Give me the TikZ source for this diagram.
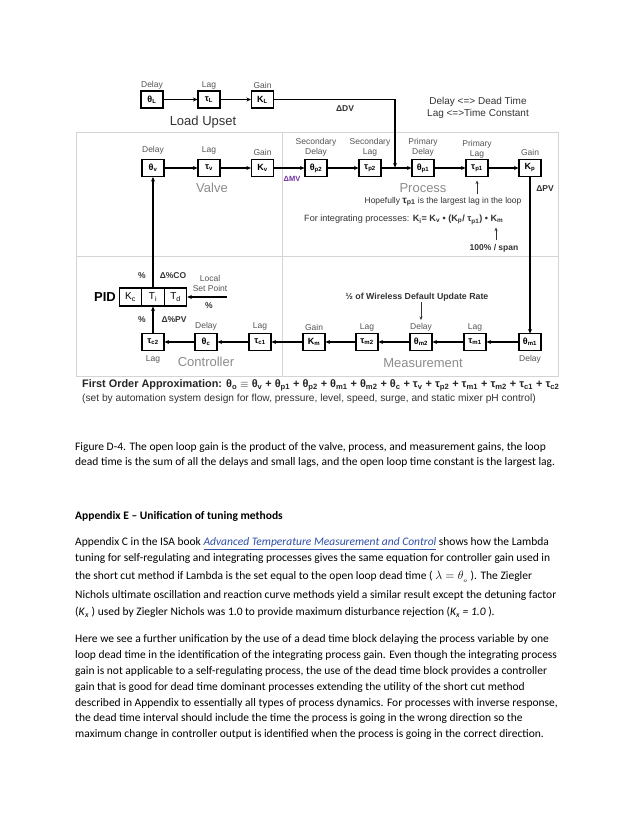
\documentclass[tikz,border=0pt]{standalone}
\usepackage{fontspec}
\setmainfont{Carlito}
\newfontfamily\arial{Liberation Sans}
\usetikzlibrary{arrows.meta}
\definecolor{lblgray}{HTML}{555555}
\definecolor{biggray}{HTML}{8C8C8C}
\definecolor{framegray}{HTML}{D4D4D4}
\definecolor{mvpurple}{HTML}{7030A0}
\definecolor{linkblue}{HTML}{2F4FA8}
\definecolor{darktxt}{HTML}{333333}
\begin{document}
\begin{tikzpicture}[x=1pt,y=-1pt,
 blk/.style={draw,line width=1.1pt,fill=white,minimum width=22pt,minimum height=17pt,inner sep=0pt,font=\arial\bfseries\fontsize{9}{10}\selectfont},
 pidbox/.style={draw,line width=1.1pt,fill=white,minimum width=22.5pt,minimum height=18pt,inner sep=0pt,font=\arial\fontsize{10}{11}\selectfont},
 lbl/.style={font=\arial\fontsize{8.5}{10}\selectfont,text=lblgray,inner sep=0pt,align=center},
 big/.style={font=\arial\fontsize{13}{14}\selectfont,text=biggray,inner sep=0pt},
 note/.style={font=\arial\fontsize{8.5}{10}\selectfont,text=darktxt,inner sep=0pt},
 bnote/.style={font=\arial\bfseries\fontsize{8.5}{10}\selectfont,text=darktxt,inner sep=0pt},
 arr/.style={-{Stealth[length=4.5pt,width=4pt]},line width=1.3pt},
 thinarr/.style={-{Stealth[length=3.5pt,width=3pt]},line width=0.6pt,draw=darktxt},
 body/.style={font=\fontsize{11.5}{14}\selectfont,anchor=base west,inner sep=0pt},
]
\fill[white] (0,0) rectangle (638,826);
\useasboundingbox (0,0) rectangle (638,826);

% frame
\draw[framegray,line width=0.8pt] (76,132) rectangle (558,376);
\draw[framegray,line width=0.8pt] (76,256) -- (558,256);
\draw[framegray,line width=0.8pt] (282,132) -- (282,376);

% load upset row
\node[blk] (thL) at (152,99.5) {θ\textsubscript{L}};
\node[blk] (tauL) at (209,99.5) {τ\textsubscript{L}};
\node[blk] (KL) at (262.5,99.5) {K\textsubscript{L}};
\node[lbl] (l1) at (152,85) {Delay};
\node[lbl] (l2) at (209,85) {Lag};
\node[lbl] (l3) at (262.5,85) {Gain};
\node[font=\arial\fontsize{13}{14}\selectfont,text=darktxt,inner sep=0pt] (lu) at (203,122) {Load Upset};
\node[bnote] (dv) at (345,109) {ΔDV};
\node[font=\arial\fontsize{10}{12}\selectfont,text=darktxt,inner sep=0pt] (eq1) at (478,102) {Delay <=> Dead Time};
\node[font=\arial\fontsize{10}{12}\selectfont,text=darktxt,inner sep=0pt] (eq2) at (478,114) {Lag <=>Time Constant};
\coordinate (dvc) at (395,99.5);
\coordinate (dvj) at (395,167.5);
\draw[arr] (thL) -- (tauL);
\draw[arr] (tauL) -- (KL);
\draw[arr] (KL.east) -- (dvc) -- (dvj);

% forward path
\node[blk] (thv) at (153,168) {θ\textsubscript{v}};
\node[blk] (tauv) at (209,168) {τ\textsubscript{v}};
\node[blk] (Kv) at (262.5,168) {K\textsubscript{v}};
\node[blk] (thp2) at (316,168) {θ\textsubscript{p2}};
\node[blk] (taup2) at (370,168) {τ\textsubscript{p2}};
\node[blk] (thp1) at (423,168) {θ\textsubscript{p1}};
\node[blk] (taup1) at (477,168) {τ\textsubscript{p1}};
\node[blk] (Kp) at (530,168) {K\textsubscript{p}};
\node[lbl] (l4) at (153,150.5) {Delay};
\node[lbl] (l5) at (209,150.5) {Lag};
\node[lbl] (l6) at (262.5,152.5) {Gain};
\node[lbl] (l7) at (316,147) {Secondary\\Delay};
\node[lbl] (l8) at (370,147) {Secondary\\Lag};
\node[lbl] (l9) at (423,147) {Primary\\Delay};
\node[lbl] (l10) at (477,149.5) {Primary\\Lag};
\node[lbl] (l11) at (530,152.5) {Gain};
\draw[arr] (thv) -- (tauv);
\draw[arr] (tauv) -- (Kv);
\draw[arr] (Kv) -- (thp2);
\draw[arr] (thp2) -- (taup2);
\draw[arr] (taup2) -- (thp1);
\draw[arr] (thp1) -- (taup1);
\draw[arr] (taup1) -- (Kp);
\node[font=\arial\bfseries\fontsize{7.5}{9}\selectfont,text=mvpurple,inner sep=0pt] (mv) at (292,179) {ΔMV};
\node[big] (valve) at (212,188) {Valve};
\node[big] (process) at (423,188) {Process};
\node[bnote] (pv) at (545,189) {ΔPV};
\node[note] (hope) at (443,201.5) {Hopefully {\bfseries\fontsize{10}{10}\selectfont τ\textsubscript{p1}} is the largest lag in the loop};
\coordinate (hopeA) at (477,194);
\coordinate (hopeB) at (477,180.5);
\draw[thinarr] (hopeA) -- (hopeB);
\node[note,anchor=west,font=\arial\fontsize{9.1}{10}\selectfont] (integ) at (304,220) {For integrating processes: {\bfseries K\textsubscript{i}= K\textsubscript{v} • (K\textsubscript{p}/ τ\textsubscript{p1}) • K\textsubscript{m}}};
\coordinate (spA) at (496,240);
\coordinate (spB) at (496,227.5);
\draw[thinarr] (spA) -- (spB);
\node[bnote] (span) at (494,248) {100\% / span};

% Kp down to measurement
\draw[arr,line width=1.5pt] (Kp.south) -- (Kp.south |- 0,333.5);

% measurement / controller row
\node[blk] (thm1) at (530,342) {θ\textsubscript{m1}};
\node[blk] (taum1) at (475,342) {τ\textsubscript{m1}};
\node[blk] (thm2) at (421,342) {θ\textsubscript{m2}};
\node[blk] (taum2) at (367,342) {τ\textsubscript{m2}};
\node[blk] (Km) at (314,342) {K\textsubscript{m}};
\node[blk] (tauc1) at (260,342) {τ\textsubscript{c1}};
\node[blk] (thc) at (206,342) {θ\textsubscript{c}};
\node[blk] (tauc2) at (153,342) {τ\textsubscript{c2}};
\node[lbl] (l12) at (314,327) {Gain};
\node[lbl] (l13) at (367,327) {Lag};
\node[lbl] (l14) at (421,327) {Delay};
\node[lbl] (l15) at (475,327) {Lag};
\node[lbl] (l16) at (530,359) {Delay};
\node[lbl] (l17) at (206,326) {Delay};
\node[lbl] (l18) at (260,326) {Lag};
\node[lbl] (l19) at (153,359) {Lag};
\draw[arr] (thm1) -- (taum1);
\draw[arr] (taum1) -- (thm2);
\draw[arr] (thm2) -- (taum2);
\draw[arr] (taum2) -- (Km);
\draw[arr] (Km) -- (tauc1);
\draw[arr] (tauc1) -- (thc);
\draw[arr] (thc) -- (tauc2);
\node[big] (ctrl) at (206,362) {Controller};
\node[big] (meas) at (423,363) {Measurement};
\node[bnote,font=\arial\bfseries\fontsize{8.8}{10}\selectfont] (wl) at (417,297) {½ of Wireless Default Update Rate};
\coordinate (wlA) at (421,302);
\coordinate (wlB) at (421,320);
\draw[thinarr] (wlA) -- (wlB);

% PID
\node[font=\arial\bfseries\fontsize{13}{14}\selectfont,text=black,inner sep=0pt] (pid) at (105,297.5) {PID};
\node[pidbox] (Kc) at (130.5,297) {K\textsubscript{c}};
\node[pidbox] (Ti) at (153,297) {T\textsubscript{i}};
\node[pidbox] (Td) at (175.5,297) {T\textsubscript{d}};
\draw[arr] (tauc2.north) -- (Ti.south);
\draw[arr,line width=1.5pt] (Ti.north) -- (thv.south);
\coordinate (lsp) at (227,297);
\draw[arr] (lsp) -- (Td.east);
\node[bnote] (pc1) at (142,276) {\%};
\node[bnote] (co) at (173,276) {Δ\%CO};
\node[lbl] (loc) at (210,283) {Local\\Set Point};
\node[bnote] (pc2) at (209,305.5) {\%};
\node[bnote] (pc3) at (142,320) {\%};
\node[bnote] (pvl) at (174,320) {Δ\%PV};

% approximation
\node[font=\arial\bfseries\fontsize{10.9}{13}\selectfont,anchor=base west,inner sep=0pt,text=black!85] (fo) at (82,387.5) {First Order Approximation: θ\textsubscript{o} $\equiv$ θ\textsubscript{v} + θ\textsubscript{p1} + θ\textsubscript{p2} + θ\textsubscript{m1} + θ\textsubscript{m2} + θ\textsubscript{c} + τ\textsubscript{v} + τ\textsubscript{p2} + τ\textsubscript{m1} + τ\textsubscript{m2} + τ\textsubscript{c1} + τ\textsubscript{c2}};
\node[font=\arial\fontsize{10.2}{12}\selectfont,anchor=base west,inner sep=0pt,text=darktxt] (setby) at (82,401) {(set by automation system design for flow, pressure, level, speed, surge, and static mixer pH control)};

% body text
\node[body] (t1) at (75,450.5) {Figure D-4. The open loop gain is the product of the valve, process, and measurement gains, the loop};
\node[body] (t2) at (75,465.5) {dead time is the sum of all the delays and small lags, and the open loop time constant is the largest lag.};
\node[body,font=\bfseries\fontsize{11.5}{14}\selectfont] (t3) at (75,519.5) {Appendix E – Unification of tuning methods};
\node[body] (t4) at (75,545.5) {Appendix C in the ISA book {\color{linkblue}\textit{\underline{Advanced Temperature Measurement and Control}}} shows how the Lambda};
\node[body] (t5) at (75,561.5) {tuning for self-regulating and integrating processes gives the same equation for controller gain used in};
\node[body] (t6) at (75,579.5) {the short cut method if Lambda is the set equal to the open loop dead time ( $\lambda = \theta_{_o}$ ). The Ziegler};
\node[body] (t7) at (75,598.5) {Nichols ultimate oscillation and reaction curve methods yield a similar result except the detuning factor};
\node[body] (t8) at (75,615.5) {(\textit{K}\textsubscript{\textit{x}} ) used by Ziegler Nichols was 1.0 to provide maximum disturbance rejection (\textit{K\textsubscript{x} = 1.0} ).};
\node[body] (t9) at (75,642) {Here we see a further unification by the use of a dead time block delaying the process variable by one};
\node[body] (t10) at (75,658) {loop dead time in the identification of the integrating process gain. Even though the integrating process};
\node[body] (t11) at (75,674) {gain is not applicable to a self-regulating process, the use of the dead time block provides a controller};
\node[body] (t12) at (75,690) {gain that is good for dead time dominant processes extending the utility of the short cut method};
\node[body] (t13) at (75,706) {described in Appendix to essentially all types of process dynamics. For processes with inverse response,};
\node[body] (t14) at (75,721.5) {the dead time interval should include the time the process is going in the wrong direction so the};
\node[body] (t15) at (75,737.5) {maximum change in controller output is identified when the process is going in the correct direction.};
\end{tikzpicture}
\end{document}
